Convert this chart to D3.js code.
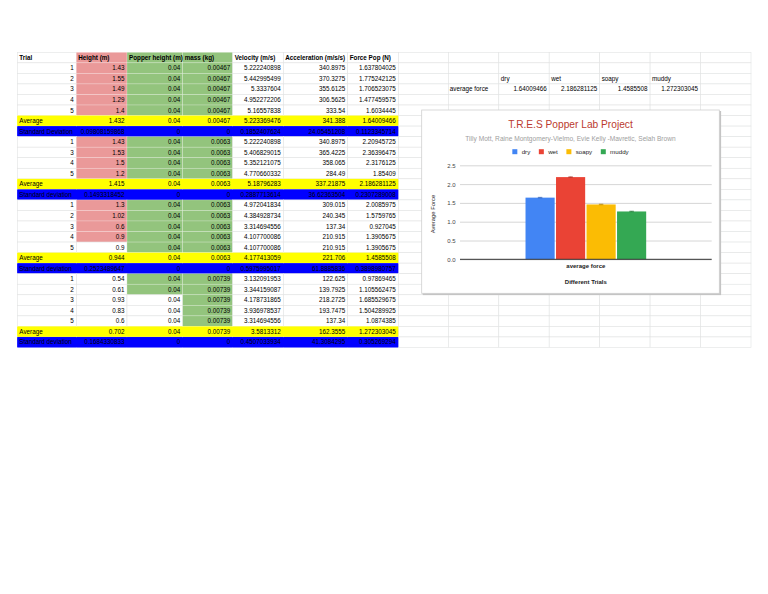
<!DOCTYPE html>
<html>
<head>
<meta charset="utf-8">
<script src="https://cdn.jsdelivr.net/npm/d3@7"></script>
<style>
    body { margin: 0; background: #fff; }
    svg { display: block; font-family: "Liberation Sans", Arial, sans-serif; }
</style>
</head>
<body>
<svg id="vis" width="768" height="594"></svg>
<script>
/**
 * Sheet values (as shown in the cells)
 */
var headerCells = ["Trial", "Height (m)", "Popper height (m)", "mass (kg)", "Velocity (m/s)", "Acceleration (m/s/s)", "Force Pop (N)"];

var dryRows = [
    ["1", "1.43", "0.04", "0.00467", "5.222240898", "340.8975", "1.637804025"],
    ["2", "1.55", "0.04", "0.00467", "5.442995499", "370.3275", "1.775242125"],
    ["3", "1.49", "0.04", "0.00467", "5.3337604", "355.6125", "1.706523075"],
    ["4", "1.29", "0.04", "0.00467", "4.952272206", "306.5625", "1.477459575"],
    ["5", "1.4", "0.04", "0.00467", "5.16557838", "333.54", "1.6034445"]
];
var dryAverage = ["Average", "1.432", "0.04", "0.00467", "5.223369476", "341.388", "1.64009466"];
var dryStdDev = ["Standard Deviation", "0.09808159868", "0", "0", "0.1852407624", "24.05451208", "0.1123345714"];

var wetRows = [
    ["1", "1.43", "0.04", "0.0063", "5.222240898", "340.8975", "2.20945725"],
    ["3", "1.53", "0.04", "0.0063", "5.406829015", "365.4225", "2.36396475"],
    ["4", "1.5", "0.04", "0.0063", "5.352121075", "358.065", "2.3176125"],
    ["5", "1.2", "0.04", "0.0063", "4.770660332", "284.49", "1.85409"]
];
var wetAverage = ["Average", "1.415", "0.04", "0.0063", "5.18796283", "337.21875", "2.186281125"];
var wetStdDev = ["Standard deviation", "0.1493318452", "0", "0", "0.2887713614", "36.62363504", "0.2307289008"];

var soapyRows = [
    ["1", "1.3", "0.04", "0.0063", "4.972041834", "309.015", "2.0085975"],
    ["2", "1.02", "0.04", "0.0063", "4.384928734", "240.345", "1.5759765"],
    ["3", "0.6", "0.04", "0.0063", "3.314694556", "137.34", "0.927045"],
    ["4", "0.9", "0.04", "0.0063", "4.107700086", "210.915", "1.3905675"],
    ["5", "0.9", "0.04", "0.0063", "4.107700086", "210.915", "1.3905675"]
];
var soapyAverage = ["Average", "0.944", "0.04", "0.0063", "4.177413059", "221.706", "1.4585508"];
var soapyStdDev = ["Standard deviation", "0.2523489647", "0", "0", "0.5975995017", "61.8885836", "0.3898980757"];

var muddyRows = [
    ["1", "0.54", "0.04", "0.00739", "3.132091953", "122.625", "0.97869465"],
    ["2", "0.61", "0.04", "0.00739", "3.344159087", "139.7925", "1.105562475"],
    ["3", "0.93", "0.04", "0.00739", "4.178731865", "218.2725", "1.685529675"],
    ["4", "0.83", "0.04", "0.00739", "3.936978537", "193.7475", "1.504289925"],
    ["5", "0.6", "0.04", "0.00739", "3.314694556", "137.34", "1.0874385"]
];
var muddyAverage = ["Average", "0.702", "0.04", "0.00739", "3.5813312", "162.3555", "1.272303045"];
var muddyStdDev = ["Standard deviation", "0.1684330833", "0", "0", "0.4507033934", "41.3084295", "0.305269294"];

/**
 * Chart values
 */
var categories = ["dry", "wet", "soapy", "muddy"];
var averageForce = [1.64009466, 2.186281125, 1.4585508, 1.272303045];
var errorAmount = [0.008, 0.008, 0.008, 0.008];
var groupLabels = ["average force"];
var yTicks = [0, 0.5, 1, 1.5, 2, 2.5];

var chartTitle = "T.R.E.S Popper Lab Project";
var chartSubtitle = "Tilly Mott, Raine Montgomery-Vielmo, Evie Kelly -Mavretic, Selah Brown";

/**
 * Layout / styling
 */
var COLORS = ["#4285f4", "#ea4335", "#fbbc04", "#34a853"];
var PINK = "#ea9999", GREEN = "#93c47d", YELLOW = "#ffff00", BLUE = "#0000ff";
var GRID = "#e2e3e3";
var FONT_CELL = 6.3;

// column edges of the sheet (left table + empty columns on the right)
var colX = [17.3, 76.3, 127, 182.7, 232.7, 283.3, 347.7, 398.3, 448.3, 498.8, 549.2, 599.7, 650.1, 700.6, 751];

var _vis = d3.select("#vis");

// build the list of sheet rows
var sheetRows = [{cells: headerCells, kind: "header", block: -1}];
[[dryRows, dryAverage, dryStdDev], [wetRows, wetAverage, wetStdDev],
 [soapyRows, soapyAverage, soapyStdDev], [muddyRows, muddyAverage, muddyStdDev]].forEach(function (b, bi) {
    b[0].forEach(function (r, ri) { sheetRows.push({cells: r, kind: "data", block: bi, idx: ri}); });
    sheetRows.push({cells: b[1], kind: "avg", block: bi});
    sheetRows.push({cells: b[2], kind: "sd", block: bi});
});

var rowScale = d3.scaleBand()
    .domain(d3.range(sheetRows.length))
    .range([52.3, 347.5]);

// white exceptions in the coloured columns
function cellFill(row, c) {
    if (row.kind === "avg") return YELLOW;
    if (row.kind === "sd") return BLUE;
    if (row.kind === "header") return c === 1 ? PINK : (c === 2 || c === 3) ? GREEN : "#fff";
    if (c === 1) {
        if (row.block === 3) return "#fff";
        if (row.block === 2 && row.idx === 4) return "#fff";
        return PINK;
    }
    if (c === 2) {
        if (row.block === 3 && row.idx >= 2) return "#fff";
        return GREEN;
    }
    if (c === 3) return GREEN;
    return "#fff";
}

/**
 * Grid cells
 */
var gridG = _vis.append("g").attr("class", "sheet");
sheetRows.forEach(function (row, ri) {
    var y = rowScale(ri), h = rowScale.bandwidth();
    for (var c = 0; c < colX.length - 1; c++) {
        var fill = c < 7 ? cellFill(row, c) : "#fff";
        gridG.append("rect")
            .attr("x", colX[c]).attr("y", y)
            .attr("width", colX[c + 1] - colX[c]).attr("height", h)
            .attr("fill", fill)
            .attr("stroke", fill === "#fff" ? GRID : "rgba(255,255,255,0.35)")
            .attr("stroke-width", 0.6);
    }
    if (row.kind === "avg" || row.kind === "sd") {
        gridG.append("rect")
            .attr("x", colX[0]).attr("y", y + 0.3)
            .attr("width", colX[7] - colX[0]).attr("height", h - 0.6)
            .attr("fill", row.kind === "avg" ? YELLOW : BLUE);
    }
});

// cell texts
var textG = _vis.append("g").attr("class", "sheet-text")
    .style("font-size", FONT_CELL + "px").attr("fill", "#000");
sheetRows.forEach(function (row, ri) {
    var yc = rowScale(ri) + rowScale.bandwidth() / 2;
    row.cells.forEach(function (t, c) {
        var left = row.kind === "header" || (c === 0 && (row.kind === "avg" || row.kind === "sd"));
        textG.append("text")
            .attr("x", left ? colX[c] + 2 : colX[c + 1] - 2.5)
            .attr("y", yc)
            .attr("dy", "0.36em")
            .attr("text-anchor", left ? "start" : "end")
            .style("font-weight", row.kind === "header" ? "bold" : null)
            .text(t);
    });
});

// summary cells to the right
var sumHeadY = rowScale(2) + rowScale.bandwidth() / 2;
var sumValY = rowScale(3) + rowScale.bandwidth() / 2;
categories.forEach(function (cat, i) {
    textG.append("text")
        .attr("x", colX[9 + i] + 2).attr("y", sumHeadY).attr("dy", "0.36em")
        .text(cat);
    textG.append("text")
        .attr("x", colX[10 + i] - 2.5).attr("y", sumValY).attr("dy", "0.36em")
        .attr("text-anchor", "end")
        .text(String(averageForce[i]));
});
textG.append("text")
    .attr("x", colX[8] + 1.5).attr("y", sumValY).attr("dy", "0.36em")
    .text(groupLabels[0]);

/**
 * Embedded chart
 */
var box = {x: 421.7, y: 110, w: 297.6, h: 183.3};
var chartG = _vis.append("g").attr("class", "chart");
chartG.append("rect")
    .attr("x", box.x + 1).attr("y", box.y + 1)
    .attr("width", box.w + 0.8).attr("height", box.h + 0.8)
    .attr("fill", "#c4c4c4");
chartG.append("rect")
    .attr("x", box.x).attr("y", box.y)
    .attr("width", box.w).attr("height", box.h)
    .attr("fill", "#fff").attr("stroke", "#cfcfcf").attr("stroke-width", 0.8);

var cx = box.x + box.w / 2;

chartG.append("text")
    .attr("x", cx).attr("y", 124.3).attr("dy", "0.36em")
    .attr("text-anchor", "middle")
    .style("font-size", "10.2px").attr("fill", "#bb3a2e")
    .text(chartTitle);

chartG.append("text")
    .attr("x", cx).attr("y", 138.3).attr("dy", "0.36em")
    .attr("text-anchor", "middle")
    .style("font-size", "6.6px").attr("fill", "#9e9e9e")
    .text(chartSubtitle);

// legend, centred
var legendG = chartG.append("g").style("font-size", "6.2px");
var lx = 0;
categories.forEach(function (cat, i) {
    var item = legendG.append("g").attr("transform", "translate(" + lx + ",0)");
    item.append("rect").attr("x", 0).attr("y", -2.5).attr("width", 5).attr("height", 5).attr("fill", COLORS[i]);
    var t = item.append("text").attr("x", 9.3).attr("y", 0).attr("dy", "0.36em").attr("fill", "#222").text(cat);
    lx += 9.3 + t.node().getComputedTextLength() + 8.6;
});
var legendW = lx - 8.6;
legendG.attr("transform", "translate(" + (cx - legendW / 2) + ",151.7)");

// scales
var plotLeft = 460, plotRight = 711.7;
var yScale = d3.scaleLinear().domain([0, 2.5]).range([259.3, 165.3]);
var x0 = d3.scaleBand().domain(groupLabels).range([plotLeft, plotRight]).paddingInner(0).paddingOuter(0.543);
var x1 = d3.scaleBand().domain(categories).range([0, x0.bandwidth()]).paddingInner(0.045);

// gridlines + labels
var yAxis = chartG.append("g")
    .attr("transform", "translate(" + plotLeft + ",0)")
    .call(d3.axisLeft(yScale).tickValues(yTicks).tickSize(-(plotRight - plotLeft)).tickPadding(4.3)
        .tickFormat(d3.format(".1f")));
yAxis.select(".domain").remove();
yAxis.selectAll(".tick line").attr("stroke", "#cccccc").attr("stroke-width", 0.8);
yAxis.selectAll(".tick text").attr("fill", "#444").style("font-size", "6px")
    .style("font-family", "\"Liberation Sans\", Arial, sans-serif");

// bars
var barG = chartG.append("g").attr("transform", "translate(" + x0(groupLabels[0]) + ",0)");
barG.selectAll("rect.bar")
    .data(averageForce)
    .enter()
    .append("rect")
    .attr("class", "bar")
    .attr("x", function (d, i) { return x1(categories[i]); })
    .attr("y", function (d) { return yScale(d); })
    .attr("width", x1.bandwidth())
    .attr("height", function (d) { return yScale(0) - yScale(d); })
    .attr("fill", function (d, i) { return COLORS[i]; });

// tiny error bars
barG.selectAll("g.err")
    .data(averageForce)
    .enter()
    .append("g")
    .attr("class", "err")
    .each(function (d, i) {
        var g = d3.select(this);
        var mx = x1(categories[i]) + x1.bandwidth() / 2;
        var col = d3.color(COLORS[i]).darker(0.9);
        g.append("line")
            .attr("x1", mx).attr("x2", mx)
            .attr("y1", yScale(d - errorAmount[i])).attr("y2", yScale(d + errorAmount[i]))
            .attr("stroke", col).attr("stroke-width", 0.6);
        [d - errorAmount[i], d + errorAmount[i]].forEach(function (v) {
            g.append("line")
                .attr("x1", mx - 2.2).attr("x2", mx + 2.2)
                .attr("y1", yScale(v)).attr("y2", yScale(v))
                .attr("stroke", col).attr("stroke-width", 0.6);
        });
    });

// baseline
chartG.append("line")
    .attr("x1", plotLeft).attr("x2", plotRight)
    .attr("y1", yScale(0)).attr("y2", yScale(0))
    .attr("stroke", "#333").attr("stroke-width", 1);

// category label under the group
chartG.append("text")
    .attr("x", x0(groupLabels[0]) + x0.bandwidth() / 2).attr("y", 265.7).attr("dy", "0.36em")
    .attr("text-anchor", "middle").style("font-size", "6px").style("font-weight", "bold").attr("fill", "#222")
    .text(groupLabels[0]);

// axis titles
chartG.append("text")
    .attr("x", x0(groupLabels[0]) + x0.bandwidth() / 2).attr("y", 281.7).attr("dy", "0.36em")
    .attr("text-anchor", "middle").style("font-size", "6px").style("font-weight", "bold").attr("fill", "#222")
    .text("Different Trials");

chartG.append("text")
    .attr("transform", "translate(433.3,214) rotate(-90)")
    .attr("dy", "0.36em")
    .attr("text-anchor", "middle").style("font-size", "5.9px").attr("fill", "#222")
    .text("Average Force");
</script>
</body>
</html>
